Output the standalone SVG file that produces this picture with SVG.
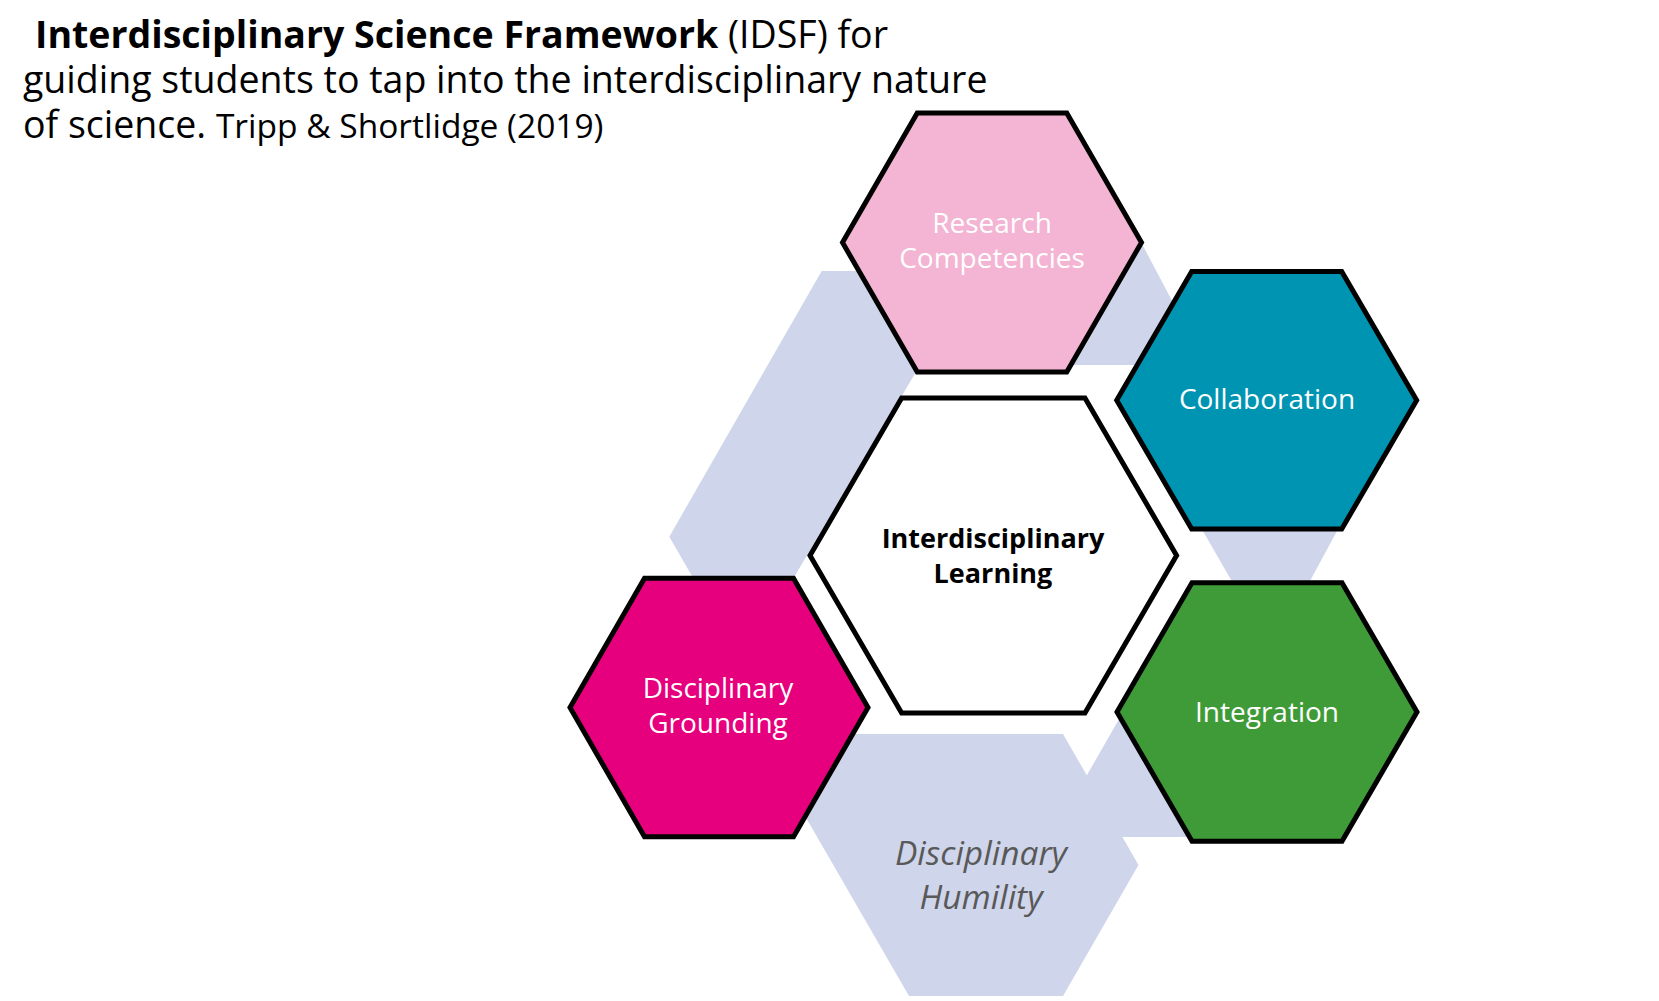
<svg xmlns="http://www.w3.org/2000/svg" width="1659" height="1001" viewBox="0 0 1659 1001">
<style>
text{font-family:"Open Sans","Liberation Sans",sans-serif;}
.hex{stroke:#000;stroke-width:5;stroke-linejoin:miter;}
.band{fill:#CFD5EA;stroke:none;}
.lbl{font-size:28px;fill:#fff;text-anchor:middle;}
.ctr{font-size:27px;font-weight:bold;fill:#000;text-anchor:middle;}
.hum{font-size:33.5px;font-style:italic;fill:#595959;text-anchor:middle;}
.title{font-size:37.5px;fill:#000;}
</style>
<rect width="1659" height="1001" fill="#fff"/>
<g id="title">
<text class="title" x="35" y="47.6"><tspan font-weight="bold">Interdisciplinary Science Framework</tspan> (IDSF) for</text>
<text class="title" x="23" y="92.5">guiding students to tap into the interdisciplinary nature</text>
<text class="title" x="23" y="137.5">of science. <tspan font-size="33.5px">Tripp &amp; Shortlidge (2019)</tspan></text>
</g>
<g id="connectors">
<polygon class="band" points="821.7,271 976,271 793.5,578 779,602 707,602 669.3,536.7"/>
<polygon class="band" points="1100,243 1141.5,243 1172.7,302 1200,340 1200,365 1060,365"/>
<polygon class="band" points="1200.6,527 1339.2,527 1305.1,590 1236.9,590"/>
<polygon class="band" points="1087,775 1130,700 1200,700 1200,837 1110,837 1080,780"/>
</g>
<g id="humility">
<polygon class="band" points="800,734 1063,734 1138.5,865 1063,996 909,996 790,790"/>
<text class="hum" x="981" y="865">Disciplinary</text>
<text class="hum" x="981" y="909.3">Humility</text>
</g>
<g id="research">
<polygon class="hex" fill="#F4B4D3" points="842.5,242.5 917.25,113 1066.75,113 1141.5,242.5 1066.75,372 917.25,372"/>
<text class="lbl" x="992" y="233.3">Research</text>
<text class="lbl" x="992" y="268.3">Competencies</text>
</g>
<g id="collaboration">
<polygon class="hex" fill="#0094B3" points="1116.7,400.3 1191.7,271.6 1341.7,271.6 1416.7,400.3 1341.7,529 1191.7,529"/>
<text class="lbl" x="1267" y="409.3">Collaboration</text>
</g>
<g id="integration">
<polygon class="hex" fill="#3F9B37" points="1117,712 1192,582.7 1342,582.7 1417,712 1342,841.3 1192,841.3"/>
<text class="lbl" x="1267" y="721.7">Integration</text>
</g>
<g id="grounding">
<polygon class="hex" fill="#E6007E" points="570,707.5 644.5,578.2 793.5,578.2 868,707.5 793.5,836.8 644.5,836.8"/>
<text class="lbl" x="718" y="698.3">Disciplinary</text>
<text class="lbl" x="718" y="733.3">Grounding</text>
</g>
<g id="center">
<polygon class="hex" fill="#fff" stroke-width="5.5" points="810,555.5 901.65,398 1084.95,398 1176.6,555.5 1084.95,713 901.65,713"/>
<text class="ctr" x="993" y="548.3">Interdisciplinary</text>
<text class="ctr" x="993" y="583.3">Learning</text>
</g>
</svg>
